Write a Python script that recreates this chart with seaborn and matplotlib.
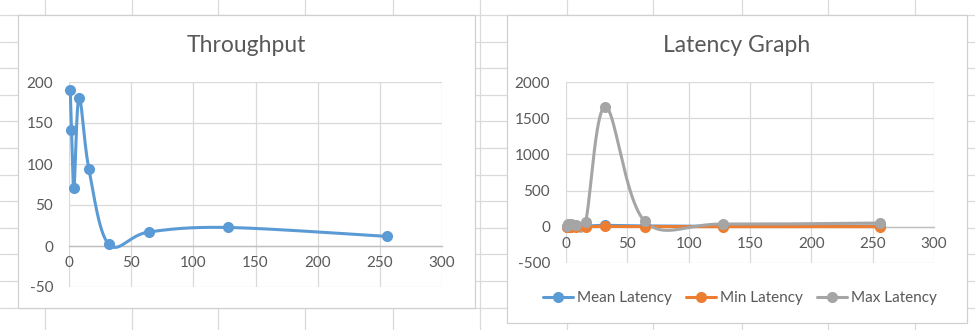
import numpy as np
import pandas as pd
import matplotlib
matplotlib.use("Agg")
import matplotlib.pyplot as plt
from matplotlib.lines import Line2D
from matplotlib.patches import Rectangle
import seaborn as sns

# ---------------- data ----------------
threads = [1, 2, 4, 8, 16, 32, 64, 128, 256]
throughput = [190, 141, 71, 181, 94, 2, 17, 22.6, 11.7]
mean_latency = [3, 5, 8, 6, 10, 20, 12, 8, 10]
min_latency = [1, 1, 1, 1, 2, 5, 3, 2, 2]
max_latency = [15, 35, 40, 25, 70, 1660, 82, 38, 52]

x_ticks = [0, 50, 100, 150, 200, 250, 300]
thr_ticks = [-50, 0, 50, 100, 150, 200]
lat_ticks = [-500, 0, 500, 1000, 1500, 2000]

BLUE = "#5B9BD5"
ORANGE = "#ED7D31"
GRAY = "#A5A5A5"
TEXT = "#595959"
GRID = "#D9D9D9"

sns.set_theme(style="white")
plt.rcParams["font.family"] = ["Lato", "DejaVu Sans"]
plt.rcParams["axes.unicode_minus"] = False

W, H = 975, 330
fig = plt.figure(figsize=(W / 100, H / 100), dpi=100)

# spreadsheet background grid
for xv in [45, 132, 218, 305, 393, 480, 567, 653, 742, 828, 915]:
    fig.add_artist(Line2D([xv / W, xv / W], [0, 1], transform=fig.transFigure,
                          color="#DADADA", lw=0.9, zorder=0))
for yv in [15, 41.6, 68.2, 94.8, 121.4, 148, 174.6, 201.2, 227.8, 254.4, 281, 307.6]:
    fig.add_artist(Line2D([0, 1], [1 - yv / H, 1 - yv / H], transform=fig.transFigure,
                          color="#DADADA", lw=0.9, zorder=0))

# chart boxes
for (x0, y0, x1, y1) in [(18, 15, 475, 308), (507, 15, 967, 323)]:
    fig.add_artist(Rectangle((x0 / W, 1 - y1 / H), (x1 - x0) / W, (y1 - y0) / H,
                             transform=fig.transFigure, facecolor="white",
                             edgecolor="#D0D0D0", lw=0.9, zorder=1))


def smooth(xs, ys, n=40):
    """Excel-like smoothed line (Catmull-Rom Bezier)."""
    P = np.column_stack([xs, ys]).astype(float)
    m = len(P)
    out = []
    for i in range(m - 1):
        p0 = P[max(i - 1, 0)]
        p1 = P[i]
        p2 = P[i + 1]
        p3 = P[min(i + 2, m - 1)]
        c1 = p1 + (p2 - p0) / 6.0
        c2 = p2 - (p3 - p1) / 6.0
        t = np.linspace(0, 1, n)[:, None]
        seg = ((1 - t) ** 3) * p1 + 3 * ((1 - t) ** 2) * t * c1 + 3 * (1 - t) * t ** 2 * c2 + t ** 3 * p2
        out.append(seg if i == 0 else seg[1:])
    out = np.vstack(out)
    return out[:, 0], out[:, 1]


def style_axes(ax, yticks):
    ax.set_xlim(0, 300)
    ax.set_ylim(yticks[0], yticks[-1])
    ax.set_xticks(x_ticks)
    ax.set_yticks(yticks)
    ax.set_xticklabels([str(v) for v in x_ticks])
    ax.set_yticklabels([str(v) for v in yticks])
    ax.grid(True, color=GRID, lw=0.9)
    ax.set_axisbelow(True)
    ax.patch.set_alpha(0)
    for s in ["top", "right", "left"]:
        ax.spines[s].set_visible(False)
    ax.spines["bottom"].set_position(("data", 0))
    ax.spines["bottom"].set_color("#BFBFBF")
    ax.spines["bottom"].set_linewidth(1.0)
    ax.tick_params(axis="y", length=0, pad=11.5, labelsize=11, labelcolor=TEXT)
    ax.tick_params(axis="x", length=0, pad=7.5, labelsize=11, labelcolor=TEXT)
    ax.set_xlabel("")
    ax.set_ylabel("")


def draw_series(ax, xs, ys, color):
    sx, sy = smooth(xs, ys)
    sns.lineplot(x=sx, y=sy, sort=False, estimator=None, color=color, lw=2.2,
                 ax=ax, zorder=3, legend=False)
    sns.scatterplot(x=xs, y=ys, color=color, s=64, edgecolor=color, linewidth=0,
                    ax=ax, zorder=4, legend=False, clip_on=False)


# ---------------- Throughput ----------------
ax1 = fig.add_axes([69 / W, 1 - 287 / H, 373 / W, 205 / H])
ax1.set_zorder(2)
draw_series(ax1, threads, throughput, BLUE)
style_axes(ax1, thr_ticks)
fig.text(246 / W, 1 - 52 / H, "Throughput", ha="center", va="baseline",
         fontsize=16.5, color=TEXT, zorder=5)

# ---------------- Latency ----------------
ax2 = fig.add_axes([566 / W, 1 - 263 / H, 368 / W, 181 / H])
ax2.set_zorder(2)
draw_series(ax2, threads, mean_latency, BLUE)
draw_series(ax2, threads, min_latency, ORANGE)
draw_series(ax2, threads, max_latency, GRAY)
style_axes(ax2, lat_ticks)
fig.text(737 / W, 1 - 52 / H, "Latency Graph", ha="center", va="baseline",
         fontsize=16.5, color=TEXT, zorder=5)

handles = [Line2D([], [], color=c, lw=2.2, marker="o", markersize=8, markeredgewidth=0)
           for c in [BLUE, ORANGE, GRAY]]
leg = ax2.legend(handles, ["Mean Latency", "Min Latency", "Max Latency"],
                 loc="center", bbox_to_anchor=(740 / W, 1 - 298 / H),
                 bbox_transform=fig.transFigure, ncol=3, frameon=False,
                 fontsize=11, handlelength=2.0, handletextpad=0.25,
                 columnspacing=0.9, labelcolor=TEXT)

fig.savefig("out.png", dpi=100)
